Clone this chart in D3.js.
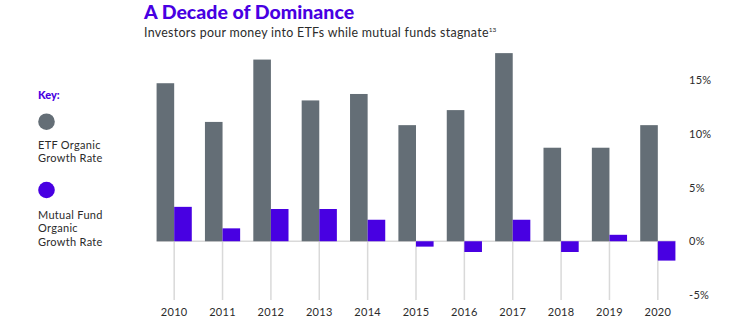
<!DOCTYPE html>
<html>
<head>
<meta charset="utf-8">
<script src="https://cdn.jsdelivr.net/npm/d3@7"></script>
<style>
  body { margin: 0; background: #fff; }
  svg { display: block; font-family: Lato, "Open Sans", sans-serif; }
</style>
</head>
<body>
<div id="chart"></div>
<script>
  var years = ['2010','2011','2012','2013','2014','2015','2016','2017','2018','2019','2020'];
  var etfGrowth = [14.7, 11.1, 16.9, 13.1, 13.7, 10.8, 12.2, 17.5, 8.7, 8.7, 10.8];
  var mutualGrowth = [3.2, 1.2, 3.0, 3.0, 2.0, -0.5, -1.0, 2.0, -1.0, 0.6, -1.8];
  var tickValues = [15, 10, 5, 0, -5];

  var width = 732;
  var height = 326;
  var grey = '#646e76';
  var purple = '#4800e2';
  var textColor = '#2b2b2b';

  var svg = d3.select('#chart').append('svg')
              .attr('width', width)
              .attr('height', height);

  // scales: zero sits at y=241, 5% is about 54px
  var x = d3.scaleBand().domain(years).range([150, 682]);
  var y = d3.scaleLinear().domain([-5, 15]).range([295, 80]);
  var barW = 17.6;

  // title + subtitle
  svg.append('text')
     .attr('x', 144).attr('y', 19)
     .attr('fill', purple)
     .attr('font-size', 19.5)
     .attr('font-weight', 900)
     .text('A Decade of Dominance');
  var sub = svg.append('text')
     .attr('x', 144).attr('y', 36.5)
     .attr('fill', textColor)
     .attr('font-size', 12.4)
     .attr('letter-spacing', 0.3)
     .text('Investors pour money into ETFs while mutual funds stagnate');
  sub.append('tspan')
     .attr('dy', -5)
     .attr('font-size', 6.5)
     .attr('letter-spacing', 0)
     .text('13');

  // key
  var key = svg.append('g').attr('fill', textColor).attr('font-size', 11).attr('letter-spacing', 0.3);
  key.append('text').attr('x', 38).attr('y', 99)
     .attr('fill', purple).attr('font-weight', 900).attr('letter-spacing', 0).text('Key:');
  key.append('circle').attr('cx', 46.5).attr('cy', 121.7).attr('r', 8.3).attr('fill', grey);
  key.append('text').attr('x', 38).attr('y', 149).text('ETF Organic');
  key.append('text').attr('x', 38).attr('y', 162).text('Growth Rate');
  key.append('circle').attr('cx', 46.5).attr('cy', 190).attr('r', 8.3).attr('fill', purple);
  key.append('text').attr('x', 38).attr('y', 219).text('Mutual Fund');
  key.append('text').attr('x', 38).attr('y', 232).text('Organic');
  key.append('text').attr('x', 38).attr('y', 246).text('Growth Rate');

  // vertical grid lines below zero
  svg.append('g').selectAll('line')
     .data(years).enter().append('line')
     .attr('x1', function(d){ return x(d) + x.bandwidth() / 2; })
     .attr('x2', function(d){ return x(d) + x.bandwidth() / 2; })
     .attr('y1', y(0))
     .attr('y2', 300)
     .attr('stroke', '#d9d9d9')
     .attr('stroke-width', 1.5);

  // zero line
  svg.append('line')
     .attr('x1', x(years[0]) + x.bandwidth() / 2 - barW)
     .attr('x2', x(years[years.length - 1]) + x.bandwidth() / 2 + barW)
     .attr('y1', y(0)).attr('y2', y(0))
     .attr('stroke', '#d9d9d9')
     .attr('stroke-width', 1.5);

  // ETF bars
  svg.append('g').selectAll('rect')
     .data(etfGrowth).enter().append('rect')
     .attr('x', function(d, i){ return x(years[i]) + x.bandwidth() / 2 - barW; })
     .attr('y', function(d){ return y(Math.max(0, d)); })
     .attr('width', barW)
     .attr('height', function(d){ return Math.abs(y(d) - y(0)); })
     .attr('fill', grey);

  // mutual fund bars
  svg.append('g').selectAll('rect')
     .data(mutualGrowth).enter().append('rect')
     .attr('x', function(d, i){ return x(years[i]) + x.bandwidth() / 2; })
     .attr('y', function(d){ return y(Math.max(0, d)); })
     .attr('width', barW)
     .attr('height', function(d){ return Math.abs(y(d) - y(0)); })
     .attr('fill', purple);

  // year labels
  var xAxis = d3.axisBottom(x).tickSize(0).tickPadding(0);
  var axisX = svg.append('g')
     .attr('transform', 'translate(0,308)')
     .call(xAxis);
  axisX.select('.domain').remove();
  axisX.selectAll('text')
     .attr('fill', textColor)
     .attr('font-size', 11)
     .attr('letter-spacing', 0.3)
     .attr('font-family', 'Lato, "Open Sans", sans-serif');

  // right axis labels
  var yAxis = d3.axisRight(y).tickValues(tickValues).tickSize(0).tickPadding(0)
     .tickFormat(function(d){ return d + '%'; });
  var axisY = svg.append('g')
     .attr('transform', 'translate(689,0)')
     .call(yAxis);
  axisY.select('.domain').remove();
  axisY.selectAll('text')
     .attr('fill', textColor)
     .attr('font-size', 11)
     .attr('letter-spacing', 0.3)
     .attr('font-family', 'Lato, "Open Sans", sans-serif');
</script>
</body>
</html>
